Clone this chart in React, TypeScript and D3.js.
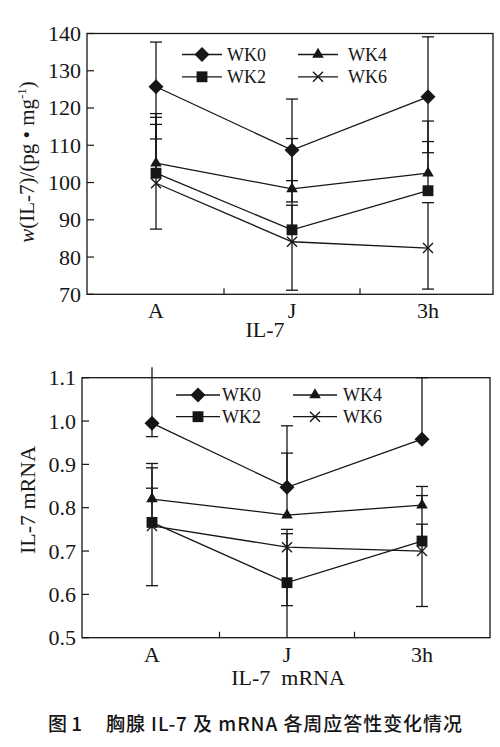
import React from 'react'
import * as d3 from 'd3'

const categories = ['A', 'J', '3h']
const seriesNames = ['WK0', 'WK2', 'WK4', 'WK6']
const seriesShapes = ['diamond', 'square', 'triangle', 'cross']

// IL-7, w(IL-7)/(pg·mg-1)
const il7WK0 = [125.7, 108.7, 123.0]
const il7WK2 = [102.5, 87.3, 97.8]
const il7WK4 = [105.2, 98.3, 102.5]
const il7WK6 = [99.8, 84.1, 82.4]
// error bar ends (null = not drawn)
const il7HiWK0 = [137.7, 122.4, 139.1]
const il7HiWK2 = [117.5, 100.5, 111.0]
const il7HiWK4 = [118.5, 111.8, 116.5]
const il7HiWK6 = [115.6, 93.9, 94.6]
const il7LoWK0 = [111.7, 94.8, 108.0]
const il7LoWK6 = [87.5, 71.1, 71.4]
const il7Ticks = [70, 80, 90, 100, 110, 120, 130, 140]

// IL-7 mRNA
const mWK0 = [0.995, 0.847, 0.958]
const mWK2 = [0.766, 0.627, 0.723]
const mWK4 = [0.82, 0.783, 0.806]
const mWK6 = [0.758, 0.709, 0.7]
const mHiWK0 = [1.124, 0.989, 1.1]
const mHiWK2 = [0.892, 0.74, 0.828]
const mHiWK4 = [0.902, 0.926, 0.849]
const mHiWK6 = [0.845, 0.75, 0.762]
const mLoWK0 = [0.964, null, null]
const mLoWK2 = [null, 0.574, null]
const mLoWK6 = [0.62, 0.5, 0.572]
const mTicks = [0.5, 0.6, 0.7, 0.8, 0.9, 1.0, 1.1]

const ink = '#161616'
const serif = '"Times New Roman", "Liberation Serif", serif'

const Marker = ({ shape, x, y }: { shape: string; x: number; y: number }) => {
  if (shape === 'cross') {
    return <path d="M-5,-5L5,5M-5,5L5,-5" transform={`translate(${x},${y})`} stroke={ink} strokeWidth={1.4} fill="none" />
  }
  let d: string
  let rot = 0
  if (shape === 'diamond') {
    d = d3.symbol().type(d3.symbolSquare).size(112)()!
    rot = 45
  } else if (shape === 'square') {
    d = d3.symbol().type(d3.symbolSquare).size(118)()!
  } else {
    d = d3.symbol().type(d3.symbolTriangle).size(58)()!
  }
  return <path d={d} transform={`translate(${x},${y}) rotate(${rot})`} fill={ink} />
}

interface PanelProps {
  values: number[][]
  hi: (number | null)[][]
  lo: (number | null)[][]
  ticks: number[]
  fmt: (v: number) => string
  frame: { L: number; R: number; T: number; B: number }
  padL: number
  padR: number
  legend: { x0: number; x1: number; y0: number; dy: number; len: number; text0: number; text1: number }
  xTitle: string
  xTitleX: number
  xTitleY: number
  yTitle: React.ReactNode
  yTitleX: number
  yTitleY: number
  yTitleSize: number
}

const Panel = (p: PanelProps) => {
  const { L, R, T, B } = p.frame
  const x = d3.scalePoint<string>().domain(categories).range([L + p.padL, R - p.padR])
  const y = d3.scaleLinear().domain(d3.extent(p.ticks) as [number, number]).range([B, T])
  const line = d3.line<number>().x((_, i) => x(categories[i])!).y((d) => y(d))
  const bounds = categories.slice(1).map((c, i) => (x(categories[i])! + x(c)!) / 2)
  const [yMin, yMax] = y.domain()
  const cap = 6

  return (
    <g>
      <rect x={L} y={T} width={R - L} height={B - T} fill="none" stroke={ink} strokeWidth={1.3} />
      {p.ticks.map((t) => (
        <g key={t}>
          <line x1={L} x2={L + 7} y1={y(t)} y2={y(t)} stroke={ink} strokeWidth={1.2} />
          <text x={L - 6} y={y(t)} dy="0.34em" textAnchor="end" fontFamily={serif} fontSize={22} fill={ink}>
            {p.fmt(t)}
          </text>
        </g>
      ))}
      {bounds.map((b) => (
        <line key={b} x1={b} x2={b} y1={B} y2={B - 6} stroke={ink} strokeWidth={1.2} />
      ))}
      {categories.map((c) => (
        <text key={c} x={x(c)} y={B + 24} textAnchor="middle" fontFamily={serif} fontSize={22} fill={ink}>
          {c}
        </text>
      ))}

      {/* error bars */}
      {p.values.map((vals, s) =>
        vals.map((v, i) => {
          const cx = x(categories[i])!
          const h = p.hi[s][i]
          const l = p.lo[s][i]
          const top = h ?? v
          const bot = l ?? v
          return (
            <g key={`${s}-${i}`} stroke={ink} strokeWidth={1.3}>
              <line x1={cx} x2={cx} y1={y(top)} y2={y(bot)} />
              {h != null && h <= yMax && <line x1={cx - cap} x2={cx + cap} y1={y(h)} y2={y(h)} />}
              {l != null && l > yMin && <line x1={cx - cap} x2={cx + cap} y1={y(l)} y2={y(l)} />}
            </g>
          )
        })
      )}

      {p.values.map((vals, s) => (
        <path key={s} d={line(vals)!} fill="none" stroke={ink} strokeWidth={1.3} />
      ))}
      {p.values.map((vals, s) =>
        vals.map((v, i) => <Marker key={`${s}-${i}`} shape={seriesShapes[s]} x={x(categories[i])!} y={y(v)} />)
      )}

      {/* legend */}
      {seriesNames.map((name, s) => {
        const col = s < 2 ? 0 : 1
        const row = s % 2
        const lx = col === 0 ? p.legend.x0 : p.legend.x1
        const ly = p.legend.y0 + row * p.legend.dy
        const tx = col === 0 ? p.legend.text0 : p.legend.text1
        return (
          <g key={name}>
            <line x1={lx} x2={lx + p.legend.len} y1={ly} y2={ly} stroke={ink} strokeWidth={1.3} />
            <Marker shape={seriesShapes[s]} x={lx + p.legend.len / 2} y={ly} />
            <text x={lx + tx} y={ly} dy="0.34em" fontFamily={serif} fontSize={18} fill={ink}>
              {name}
            </text>
          </g>
        )
      })}

      <text x={p.xTitleX} y={p.xTitleY} textAnchor="middle" fontFamily={serif} fontSize={22} fill={ink} style={{ whiteSpace: 'pre' }}>
        {p.xTitle}
      </text>
      <text
        transform={`translate(${p.yTitleX},${p.yTitleY}) rotate(-90)`}
        textAnchor="middle"
        fontFamily={serif}
        fontSize={p.yTitleSize}
        fill={ink}
        style={{ whiteSpace: 'pre' }}
      >
        {p.yTitle}
      </text>
    </g>
  )
}

const App = () => {
  return (
    <svg width={500} height={747} style={{ position: 'absolute', left: 0, top: 0, background: '#fff' }}>
      <Panel
        values={[il7WK0, il7WK2, il7WK4, il7WK6]}
        hi={[il7HiWK0, il7HiWK2, il7HiWK4, il7HiWK6]}
        lo={[il7LoWK0, [null, null, null], [null, null, null], il7LoWK6]}
        ticks={il7Ticks}
        fmt={(v) => String(v)}
        frame={{ L: 87, R: 493, T: 33.5, B: 294.3 }}
        padL={69}
        padR={65}
        legend={{ x0: 182, x1: 298, y0: 54.5, dy: 22.3, len: 40, text0: 45, text1: 50 }}
        xTitle="IL-7"
        xTitleX={265}
        xTitleY={337}
        yTitle={
          <>
            <tspan fontStyle="italic">w</tspan>
            <tspan>(IL-7)/(pg • mg</tspan>
            <tspan fontSize={13} dy={-8}>-1</tspan>
            <tspan dy={8}>)</tspan>
          </>
        }
        yTitleX={34}
        yTitleY={162}
        yTitleSize={21}
      />
      <Panel
        values={[mWK0, mWK2, mWK4, mWK6]}
        hi={[mHiWK0, mHiWK2, mHiWK4, mHiWK6]}
        lo={[mLoWK0, mLoWK2, [null, null, null], mLoWK6]}
        ticks={mTicks}
        fmt={(v) => v.toFixed(1)}
        frame={{ L: 82, R: 490, T: 377.7, B: 637.7 }}
        padL={70}
        padR={68}
        legend={{ x0: 176, x1: 293, y0: 395, dy: 21.7, len: 44, text0: 46, text1: 50 }}
        xTitle="IL-7  mRNA"
        xTitleX={288}
        xTitleY={685}
        yTitle="IL-7 mRNA"
        yTitleX={35}
        yTitleY={500}
        yTitleSize={22}
      />
      <text x={48} y={731} fontFamily='"Noto Sans CJK SC", sans-serif' fontSize={19} fontWeight={500} fill={ink}>
        图 1
      </text>
      <text
        x={106}
        y={731}
        fontFamily='"Noto Sans CJK SC", sans-serif'
        fontSize={19}
        fontWeight={500}
        fill={ink}
        textLength={356}
        lengthAdjust="spacing"
      >
        胸腺 IL-7 及 mRNA 各周应答性变化情况
      </text>
    </svg>
  )
}

export default App
